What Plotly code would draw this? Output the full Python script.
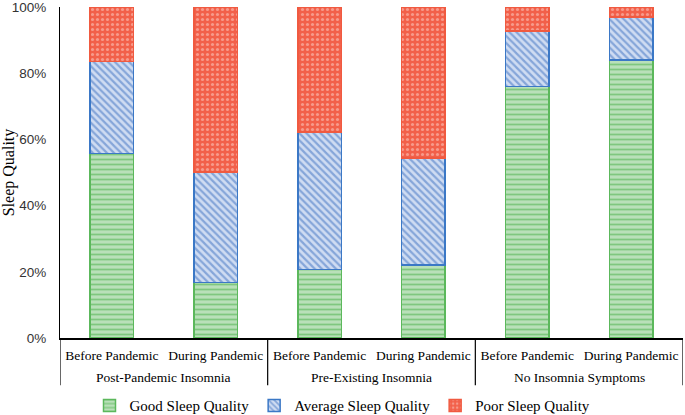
import plotly.graph_objects as go

groups = ["Post-Pandemic Insomnia", "Post-Pandemic Insomnia",
          "Pre-Existing Insomnia", "Pre-Existing Insomnia",
          "No Insomnia Symptoms", "No Insomnia Symptoms"]
periods = ["Before Pandemic", "During Pandemic"] * 3

good = [55.7, 16.8, 20.7, 22.0, 76.0, 84.0]
average = [27.8, 33.4, 41.5, 32.4, 16.8, 13.0]
poor = [16.5, 49.8, 37.8, 45.6, 7.2, 3.0]

series_names = ["Good Sleep Quality", "Average Sleep Quality", "Poor Sleep Quality"]
yticks = [0, 20, 40, 60, 80, 100]

xs = list(range(len(periods)))

styles = [
    dict(line="#5cb85c", fg="#45ad45", bg="#b9e0b9", shape="-", size=5, sol=0.35),
    dict(line="#3b78c6", fg="#3b6fc0", bg="#cfdcf2", shape="\\", size=5, sol=0.45),
    dict(line="#f05a40", fg="#fbd3cb", bg="#f2604a", shape=".", size=5, sol=0.3),
]

fig = go.Figure()
for name, vals, st in zip(series_names, [good, average, poor], styles):
    fig.add_trace(go.Bar(
        x=xs, y=vals, name=name,
        width=0.42,
        marker=dict(
            color=st["bg"],
            line=dict(color=st["line"], width=1.5),
            pattern=dict(shape=st["shape"], fgcolor=st["fg"], bgcolor=st["bg"],
                         size=st["size"], solidity=st["sol"], fillmode="overlay"),
        ),
    ))

# group labels and dividers derived from the group list
unique_groups = []
for g in groups:
    if g not in unique_groups:
        unique_groups.append(g)

annotations = []
shapes = []
bounds = [-0.5]
for g in unique_groups:
    idx = [i for i, gg in enumerate(groups) if gg == g]
    annotations.append(dict(
        x=sum(idx) / len(idx), xref="x", y=-0.12, yref="paper",
        text=g, showarrow=False, yanchor="middle",
        font=dict(family="Liberation Serif", size=13.5, color="black"),
    ))
    bounds.append(max(idx) + 0.5)
for b in bounds:
    shapes.append(dict(type="line", xref="x", yref="paper", x0=b, x1=b,
                       y0=0, y1=-0.143, line=dict(color="black", width=1.2)))

fig.update_layout(
    barmode="stack",
    width=685, height=415,
    margin=dict(l=60, r=2, t=7, b=77, autoexpand=False),
    plot_bgcolor="white", paper_bgcolor="white",
    font=dict(family="Liberation Serif", size=14, color="black"),
    legend=dict(orientation="h", x=0.5, xref="container", xanchor="center",
                y=0.022, yref="container", yanchor="middle",
                font=dict(family="Liberation Serif", size=15), traceorder="normal",
                itemwidth=30),
    showlegend=True,
    annotations=annotations,
    shapes=shapes,
)
fig.update_xaxes(
    range=[-0.5, len(xs) - 0.5],
    tickvals=xs, ticktext=periods,
    showline=True, linecolor="black", linewidth=1.5,
    showgrid=False, zeroline=False,
    tickfont=dict(family="Liberation Serif", size=13.5, color="black"),
    tickangle=0,
    ticks="",
    ticklabelstandoff=4,
    automargin=False,
)
fig.update_yaxes(
    range=[0, 100],
    tickvals=yticks, ticktext=[f"{v}%" for v in yticks],
    showline=True, linecolor="black", linewidth=1,
    showgrid=False, zeroline=False,
    tickfont=dict(family="Liberation Sans", size=13.5, color="#333"),
    title=dict(text="Sleep Quality", font=dict(family="Liberation Serif", size=16), standoff=2),
    ticks="",
    ticklabelstandoff=10,
    ticklabeloverflow="allow",
    automargin=False,
)

fig.write_html("out.html")
